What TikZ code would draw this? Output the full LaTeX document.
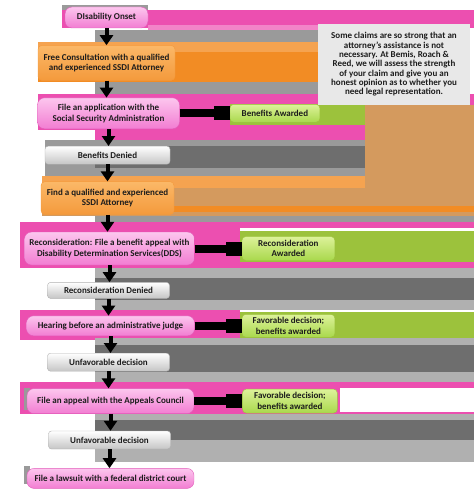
\documentclass[tikz,border=0pt]{standalone}
\usepackage{fontspec}
\setmainfont{Carlito}
\usetikzlibrary{arrows.meta, positioning}
\definecolor{pinkband}{HTML}{EC4FB0}
\definecolor{pinktop}{HTML}{FCC6EE}
\definecolor{pinkbot}{HTML}{F27DD2}
\definecolor{pinkedge}{HTML}{E25DBA}
\definecolor{orangeband}{HTML}{F28C24}
\definecolor{orangetop}{HTML}{FBB868}
\definecolor{orangebot}{HTML}{F49A3C}
\definecolor{tanband}{HTML}{D49A5E}
\definecolor{greenband}{HTML}{9CC23C}
\definecolor{greentop}{HTML}{DDF29A}
\definecolor{greenbot}{HTML}{A9D84C}
\definecolor{darkband}{HTML}{6E6E6E}
\definecolor{midband}{HTML}{9A9A9A}
\definecolor{lightband}{HTML}{B0B0B0}
\definecolor{notefill}{HTML}{E8E8E8}
\definecolor{textdark}{HTML}{1C1C1C}

\begin{document}
\begin{tikzpicture}[x=1pt, y=-1pt, node distance=17pt,
  every node/.style={font=\bfseries\fontsize{9}{10.5}\selectfont, text=textdark, align=center},
  pinkstep/.style={draw=pinkedge, rounded corners=7pt, top color=pinktop, bottom color=pinkbot, inner sep=2pt},
  orangestep/.style={draw=orangebot, rounded corners=4pt, top color=orangetop, bottom color=orangebot, inner sep=2pt},
  graystep/.style={draw=lightband, rounded corners=3pt, top color=white, bottom color=notefill!85!black, inner sep=2pt},
  greenstep/.style={draw=greenband, rounded corners=4pt, top color=greentop, bottom color=greenbot, inner sep=2pt},
  notebox/.style={fill=notefill, inner sep=2pt, font=\bfseries\fontsize{9}{9.3}\selectfont},
  downlink/.style={line width=4pt, black, -{Triangle[width=13pt,length=10pt]}},
  sidelink/.style={line width=8pt, black, -{Rectangle[width=14pt,length=16pt]}}]
  \useasboundingbox (0,0) rectangle (474,495);

  % smeared colour bands behind the chart
  \fill[midband] (62,5) rectangle (148,10);
  \fill[pinkband] (62,10) rectangle (474,28);
  \fill[pinkband!70!white] (148,25) rectangle (318,30);
  \fill[midband] (95,30) rectangle (318,42);
  \fill[orangeband!80!white] (38,42) rectangle (318,52);
  \fill[orangeband] (38,52) rectangle (318,82);
  \fill[midband] (95,82) rectangle (318,94);
  \fill[pinkband] (38,94) rectangle (474,130);
  \fill[greenband] (230,104) rectangle (365,125);
  \fill[tanband] (365,105) rectangle (474,228);
  \fill[pinkband] (95,128) rectangle (365,140);
  \fill[midband] (45,140) rectangle (365,176);
  \fill[darkband] (95,146) rectangle (365,168);
  \fill[orangeband!80!white] (42,176) rectangle (365,188);
  \fill[tanband] (42,188) rectangle (474,216);
  \fill[orangeband] (95,206) rectangle (474,212);
  \fill[midband] (95,216) rectangle (474,222);
  \fill[pinkband] (20,222) rectangle (474,228);
  \fill[pinkband] (20,228) rectangle (240,268);
  \fill[greenband] (240,231) rectangle (474,262);
  \fill[pinkband] (240,262) rectangle (474,268);
  \fill[lightband] (95,268) rectangle (474,310);
  \fill[darkband] (95,278) rectangle (474,300);
  \fill[pinkband] (20,310) rectangle (240,340);
  \fill[greenband] (240,312) rectangle (474,338);
  \fill[lightband] (95,338) rectangle (474,382);
  \fill[darkband] (95,345) rectangle (474,372);
  \fill[pinkband] (20,382) rectangle (474,414);
  \fill[white] (340,388) rectangle (474,412);
  \fill[lightband] (95,414) rectangle (474,462);
  \fill[darkband] (95,420) rectangle (474,440);
  \fill[midband] (24,388) rectangle (30,410);
  \fill[midband] (24,466) rectangle (30,484);

  \node[notebox, minimum width=152pt, minimum height=81pt] (note) at (394,64.5)
    {Some claims are so strong that an\\ attorney's assistance is not\\ necessary. At Bemis, Roach \&\\ Reed, we will assess the strength\\ of your claim and give you an\\ honest opinion as to whether you\\ need legal representation.};

  \node[pinkstep, minimum width=83pt, minimum height=21pt] (onset) at (106.5,17.5) {DIsability Onset};
  \node[orangestep, minimum width=137pt, minimum height=35pt, below=of onset] (consult) {Free Consultation with a qualified\\ and experienced SSDI Attorney};
  \node[pinkstep, minimum width=142pt, minimum height=31pt, below=of consult, xshift=2pt] (apply) {File an application with the\\ Social Security Administration};
  \node[graystep, minimum width=125pt, minimum height=18pt, below=of apply, xshift=-1pt] (denied) {Benefits Denied};
  \node[orangestep, minimum width=133pt, minimum height=33pt, below=of denied] (find) {Find a qualified and experienced\\ SSDI Attorney};
  \node[pinkstep, minimum width=170pt, minimum height=33pt, below=of find, xshift=2pt] (recon) {Reconsideration: File a benefit appeal with\\ Disability Determination Services(DDS)};
  \node[graystep, minimum width=122pt, minimum height=16pt, below=of recon, xshift=-1pt] (recondenied) {Reconsideration Denied};
  \node[pinkstep, minimum width=168pt, minimum height=20pt, below=of recondenied, xshift=2pt] (hearing) {Hearing before an administrative judge};
  \node[graystep, minimum width=122pt, minimum height=18pt, below=of hearing, xshift=-2pt] (unfav1) {Unfavorable decision};
  \node[pinkstep, minimum width=167pt, minimum height=25pt, below=of unfav1, xshift=2pt] (appeal) {File an appeal with the Appeals Council};
  \node[graystep, minimum width=122pt, minimum height=18pt, below=of appeal, xshift=-1pt] (unfav2) {Unfavorable decision};
  \node[pinkstep, minimum width=167pt, minimum height=20pt, below=of unfav2, xshift=1pt, yshift=-2pt] (lawsuit) {File a lawsuit with a federal district court};

  \node[greenstep, minimum width=90pt, minimum height=18pt, right=50pt of apply] (awarded) {Benefits Awarded};
  \node[greenstep, minimum width=93pt, minimum height=24pt, right=47pt of recon] (reconawarded) {Reconsideration\\ Awarded};
  \node[greenstep, minimum width=93pt, minimum height=23pt, right=47pt of hearing] (favor1) {Favorable decision;\\ benefits awarded};
  \node[greenstep, minimum width=95pt, minimum height=24pt, right=48pt of appeal] (favor2) {Favorable decision;\\ benefits awarded};

  \draw[downlink] (onset.south) -- (onset.south |- consult.north);
  \draw[downlink] (consult.south) -- (consult.south |- apply.north);
  \draw[downlink] (apply.south) -- (apply.south |- denied.north);
  \draw[downlink] (denied.south) -- (denied.south |- find.north);
  \draw[downlink] (find.south) -- (find.south |- recon.north);
  \draw[downlink] (recon.south) -- (recon.south |- recondenied.north);
  \draw[downlink] (recondenied.south) -- (recondenied.south |- hearing.north);
  \draw[downlink] (hearing.south) -- (hearing.south |- unfav1.north);
  \draw[downlink] (unfav1.south) -- (unfav1.south |- appeal.north);
  \draw[downlink] (appeal.south) -- (appeal.south |- unfav2.north);
  \draw[downlink] (unfav2.south) -- (unfav2.south |- lawsuit.north);

  \draw[sidelink] (apply) -- (awarded);
  \draw[sidelink] (recon) -- (reconawarded);
  \draw[sidelink] (hearing) -- (favor1);
  \draw[sidelink] (appeal) -- (favor2);
\end{tikzpicture}
\end{document}
